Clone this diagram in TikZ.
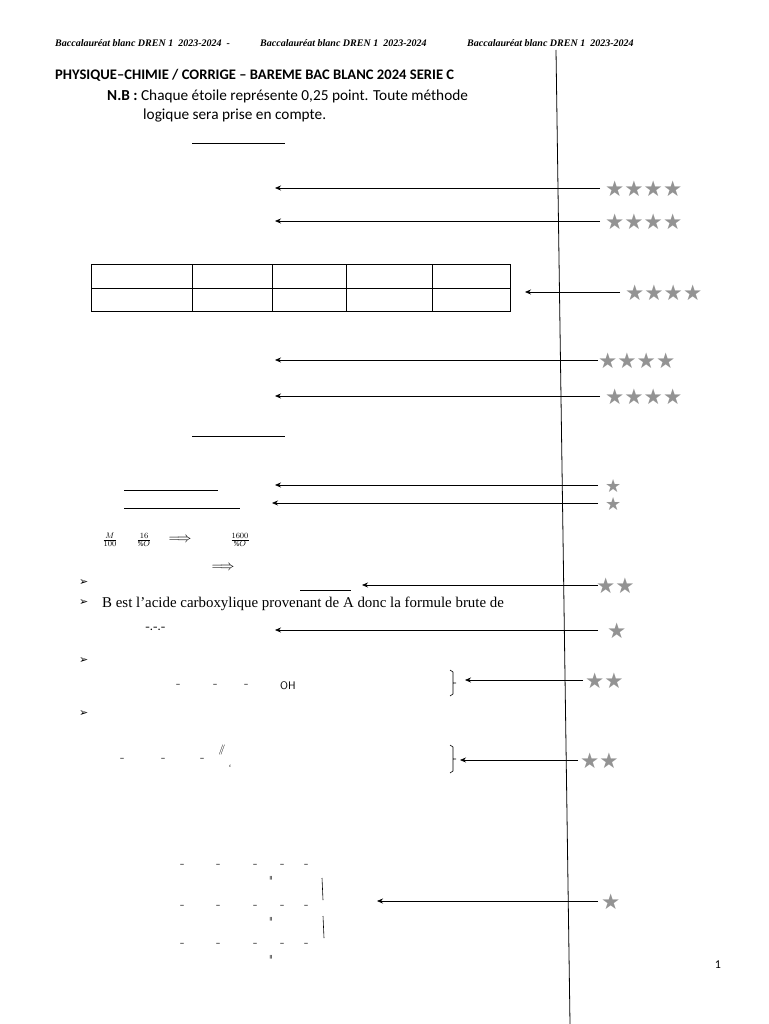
\documentclass[tikz,border=0pt]{standalone}
\usepackage{fontspec}
\setmainfont{Carlito}
\newfontfamily\djv{DejaVu Sans}
\newfontfamily\tms{Liberation Serif}
\usetikzlibrary{arrows.meta}
\begin{document}
\begin{tikzpicture}[x=1pt,y=-1pt,
  arr/.style={-{Stealth[length=6pt,width=5pt]},line width=0.7pt},
  st/.style={anchor=west,inner sep=0,text=gray!85,font=\djv\fontsize{21.5}{21.5}\selectfont},
  tx/.style={anchor=west,inner sep=0},
  ul/.style={line width=0.6pt}]
\useasboundingbox[fill=white] (0,0) rectangle (768,1024);
\begin{scope}[font=\tms\bfseries\itshape\fontsize{10}{10}\selectfont]
\node[tx] (h1) at (55,43) {Baccalauréat blanc DREN 1 \ 2023-2024 \ -};
\node[tx] (h2) at (260,43) {Baccalauréat blanc DREN 1 \ 2023-2024};
\node[tx] (h3) at (467,43) {Baccalauréat blanc DREN 1 \ 2023-2024};
\end{scope}
\node[tx,font=\bfseries\fontsize{14.6}{14.6}\selectfont] (t) at (55,75) {PHYSIQUE–CHIMIE / CORRIGE – BAREME BAC BLANC 2024 SERIE C};
\node[tx,font=\fontsize{15.3}{15.3}\selectfont] (nb) at (107,96) {\textbf{N.B :} Chaque étoile représente 0,25 point. Toute méthode};
\node[tx,font=\fontsize{15.3}{15.3}\selectfont] (nb2) at (143,116) {logique sera prise en compte.};
\draw[ul] (192,143) -- (285,143);
\draw[line width=0.8pt] (556,50) -- (570,1024);
\foreach \y/\a/\b/\s/\t in {188/600/275/605/★★★★, 221/600/275/605/★★★★, 292/620/525/625/★★★★, 360/598/275/598/★★★★, 396/600/275/605/★★★★, 485/598/275/605/★, 503/598/272/605/★, 585/598/362/596/★★, 630/598/275/607/★, 680/583/465/585/★★, 760/578/460/580/★★, 901/598/377/601/★}{
  \coordinate (s\y) at (\a,\y); \coordinate (e\y) at (\b,\y);
  \draw[arr] (s\y) -- (e\y);
  \node[st,font=\djv\fontsize{\ifnum\y=485 18\else\ifnum\y=503 18\else 21.5\fi\fi}{18}\selectfont] (k\y) at (\s,\y+1) {\t};
}
\draw[line width=0.7pt] (91,264) rectangle (510,311);
\draw[line width=0.7pt] (91,288) -- (510,288);
\foreach \x in {192,272,346,432} \draw[line width=0.7pt] (\x,264) -- (\x,311);
\draw[ul] (192,436) -- (285,436);
\draw[ul] (124,490) -- (218,490);
\draw[ul] (124,508) -- (240,508);
\node[font=\fontsize{11}{11}\selectfont,inner sep=1pt] (f1) at (110,540) {$\frac{M}{100}$};
\node[font=\fontsize{11}{11}\selectfont,inner sep=1pt] (f2) at (144,540) {$\frac{16}{\%O}$};
\node[font=\fontsize{14}{14}\selectfont,inner sep=0pt] (i1) at (180,540) {$\Longrightarrow$};
\node[font=\fontsize{11}{11}\selectfont,inner sep=1pt] (f3) at (240,540) {$\frac{1600}{\%O}$};
\node[font=\fontsize{14}{14}\selectfont,inner sep=0pt] (i2) at (223,568) {$\Longrightarrow$};
\foreach \y in {583,603,661,714} \node[tx,font=\djv\fontsize{11}{11}\selectfont] (b\y) at (79,\y) {➢};
\draw[ul] (300,590) -- (351,590);
\node[tx,font=\tms\fontsize{14.9}{14.9}\selectfont] (bt) at (102,604) {B est l’acide carboxylique provenant de A donc la formule brute de};
\node[tx,font=\bfseries] (d0) at (145,629) {–.–.–};
\foreach \x in {178,215,246} \node (m\x) at (\x,686) {–};
\node[tx,font=\sffamily\fontsize{11}{11}\selectfont] (oh) at (280,686) {OH};
\draw[line width=0.6pt] (450,670) -- (453,672) -- (453,694) -- (450,696) (453,683) -- (456,683);
\foreach \x in {122,163,202} \node (n\x) at (\x,760) {–};
\node (q1) at (222,750) {$/\!\!/$};
\node (q2) at (230,768) {\small `};
\draw[line width=0.6pt] (450,745) -- (453,747) -- (453,771) -- (450,773) (453,759) -- (456,759);
\foreach \y in {866,907,945}{
  \foreach \x in {182,218,255,282,306} \node (r\x\y) at (\x,\y) {–};
  \node[font=\small] (e\y) at (272,\y+12) {\rotatebox{90}{=}};
}
\draw[line width=0.6pt] (322,878) -- (323,900) (323,916) -- (324,938);
\node[font=\fontsize{12}{12}\selectfont] (pg) at (718,965) {1};
\end{tikzpicture}
\end{document}
